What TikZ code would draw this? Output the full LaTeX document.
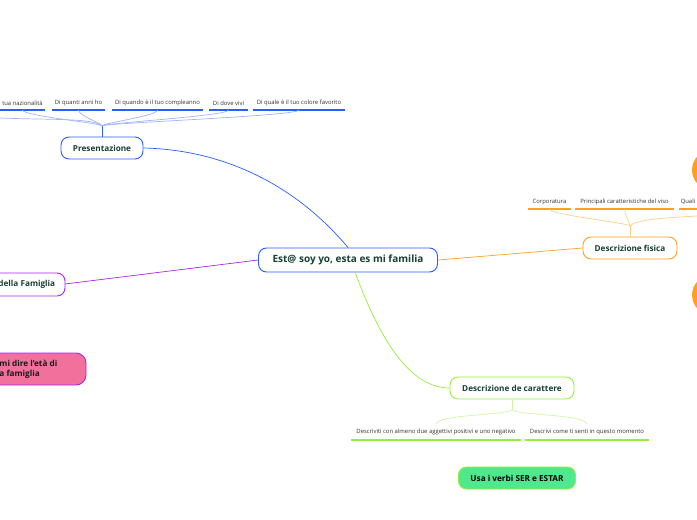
\documentclass[tikz,border=0pt]{standalone}
\usepackage{fontspec}
\setmainfont{Open Sans}
\definecolor{bl}{HTML}{2A5CFF}
\definecolor{bll}{HTML}{9FB4FF}
\definecolor{og}{HTML}{FFA020}
\definecolor{ogl}{HTML}{FFD08A}
\definecolor{gr}{HTML}{94EE3C}
\definecolor{grl}{HTML}{CFF7A8}
\definecolor{pu}{HTML}{A826F0}
\definecolor{tx}{HTML}{173F35}
\definecolor{pk}{HTML}{F2709C}
\definecolor{mg}{HTML}{4FE88F}
\begin{document}
\begin{tikzpicture}[x=1pt,y=-1pt,
  main/.style={draw,rounded corners=8pt,line width=0.9pt,fill=white,text=tx,font=\bfseries\fontsize{8.2}{10}\selectfont,inner xsep=4pt,minimum height=22pt},
  leaf/.style={font=\fontsize{5.9}{7}\selectfont,text=black!80,inner sep=1pt,anchor=south},
  ul/.style={line width=1.5pt},
  ln/.style={line width=0.7pt}]
\useasboundingbox (0,0) rectangle (697,520);
\node[main,draw=bl,minimum width=179pt,minimum height=24pt,font=\bfseries\fontsize{10}{12}\selectfont] (c) at (348,260) {Est@ soy yo, esta es mi familia};
\node[main,draw=bl,minimum width=82pt] (p) at (102,148) {Presentazione};
\draw[pu,line width=0.9pt,fill=white,rounded corners=8pt] (-20,273) rectangle (65,296);
\node[main,draw=none,fill=none,anchor=west,inner xsep=0pt] (f) at (-2,284.5) {della Famiglia};
\coordinate (fe) at (65,284);
\draw[pu,line width=0.9pt,fill=pk,rounded corners=10pt] (-20,353) rectangle (86,385);
\node[main,draw=none,fill=none,text=black!90,anchor=west,align=left,inner xsep=0pt] (pk) at (-1,369) {mi dire l'età di\\a famiglia};
\node[main,draw=og,minimum width=94pt] (df) at (630,248) {Descrizione fisica};
\node[main,draw=gr,minimum width=124pt] (dc) at (512,388) {Descrizione de carattere};
\node[main,draw=gr,fill=mg,text=black,minimum width=117pt] (us) at (517,478) {Usa i verbi SER e ESTAR};
\fill[og] (712,170) circle (20pt);
\fill[og] (712,295) circle (20pt);
% central edges
\draw[bl,ln] (p.east) .. controls (230,150) and (300,190) .. (c.north);
\draw[og,ln] (c.east) -- (df.west);
\draw[pu,ln] (fe) -- (c.west);
\draw[gr,ln] (355,272) .. controls (380,340) and (410,388) .. (dc.west);
% presentazione leaves
\coordinate (pj) at (102,126);
\draw[bl,ln] (p.north) -- (pj);
\foreach \a/\b/\t/\n in {0/45/tua nazionalità/l1, 52/105/Di quanti anni ho/l2, 112/203/Di quando è il tuo compleanno/l3, 209/248/Di dove vivi/l4, 253/345/Di quale è il tuo colore favorito/l5}{
  \node[leaf] (\n) at ({(\a+\b)/2},107) {\t};
  \draw[bl,ul] (\a,110) -- (\b,110);
}
\foreach \n in {l1,l2,l3,l4,l5}{\draw[bll,ln] (\n.south) ++(0,3) .. controls +(0,6) and +(0,-3) .. (pj);}
\draw[bll,ln] (0,118) .. controls (50,120) and (95,118) .. (pj);
% fisica leaves
\coordinate (fj) at (630,226);
\draw[ogl,ln] (df.north) -- (fj);
\foreach \a/\b/\t/\n in {528/571/Corporatura/m1, 575/674/Principali caratteristiche del viso/m2, 679/697/Quali/m3}{
  \node[leaf] (\n) at ({(\a+\b)/2},206) {\t};
  \draw[og,ul] (\a,209) -- (\b,209);
}
\foreach \n in {m1,m2}{\draw[ogl,ln] (\n.south) ++(0,3) .. controls +(0,6) and +(0,-3) .. (fj);}
\draw[ogl,ln] (697,216) .. controls (660,218) and (635,220) .. (fj);
% carattere leaves
\coordinate (cj) at (512,410);
\draw[grl,ln] (dc.south) -- (cj);
\foreach \a/\b/\t/\n in {351/521/Descriviti con almeno due aggettivi positivi e uno negativo/k1, 525/649/Descrivi come ti senti in questo momento/k2}{
  \node[leaf] (\n) at ({(\a+\b)/2},436) {\t};
  \draw[gr,ul] (\a,440) -- (\b,440);
}
\draw[grl,ln] (436,424) .. controls (440,414) and (500,416) .. (cj);
\draw[grl,ln] (587,424) .. controls (583,414) and (524,416) .. (cj);
\end{tikzpicture}
\end{document}
